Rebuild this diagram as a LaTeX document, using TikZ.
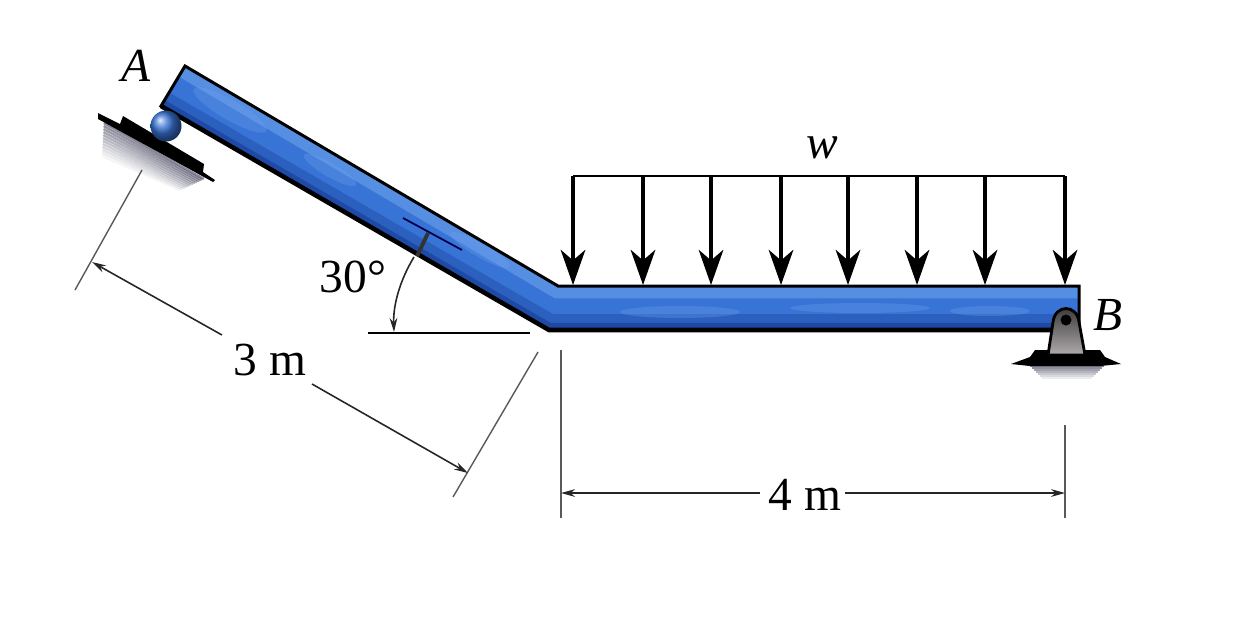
\documentclass[tikz,border=0pt]{standalone}
\usepackage{fontspec}
\setmainfont{Liberation Serif}
\usetikzlibrary{arrows.meta,positioning}
\definecolor{beamblue}{RGB}{56,116,214}
\definecolor{beamdark}{RGB}{18,52,140}
\definecolor{beamlite}{RGB}{112,164,236}
\definecolor{bracketgray}{RGB}{176,170,172}
\definecolor{shadowblue}{RGB}{40,40,70}
\tikzset{
  beamline/.style={line width=0.85pt, black, line join=miter},
  thinline/.style={line width=0.4pt, black!65},
  dimline/.style={line width=0.45pt, black!85, -{Stealth[length=4pt,width=2.2pt]}},
  loadarrow/.style={line width=1pt, black, -{Stealth[length=10pt,width=7pt,inset=3pt]}},
  blotch/.style={fill=beamlite, opacity=0.3},
  label/.style={font=\fontsize{13.5}{14}\selectfont, inner sep=0pt}
}
\begin{document}
\begin{tikzpicture}[x=0.1mm, y=-0.1mm]
  \useasboundingbox (0,0) rectangle (1250,634);
  % corners of the beam
  \coordinate (Atop) at (185,66);
  \coordinate (Alow) at (161,106);
  \coordinate (kneetop) at (558,286);
  \coordinate (kneelow) at (549,330);
  \coordinate (Btop) at (1079,286);
  \coordinate (Blow) at (1079,330);
  % shadows
  \foreach \k in {1,...,12} {
     \pgfmathsetmacro{\shadeop}{0.6*(1-\k/13)}
     \begin{scope}[shift={(-1.15*\k,2*\k)}]
        \draw [line width=0.66pt, shadowblue, opacity=\shadeop] (104+\k,120+\k) -- (206-\k,178-\k);
     \end{scope}
  }
  \foreach \k in {1,...,7} {
     \pgfmathsetmacro{\shadeop}{0.7*(1-\k/8)}
     \draw [line width=0.57pt, shadowblue, opacity=\shadeop] (1028+2*\k,364+2*\k) -- (1106-2*\k,364+2*\k);
  }
  % beam
  \fill [beamblue] (Atop) -- (kneetop) -- (Btop) -- (Blow) -- (kneelow) -- (Alow) -- cycle;
  \begin{scope}
     \clip (Atop) -- (kneetop) -- (Btop) -- (Blow) -- (kneelow) -- (Alow) -- cycle;
     \draw [line width=7pt, beamlite, opacity=0.55] (Atop) -- (kneetop) -- (Btop);
     \draw [line width=9pt, beamdark, opacity=0.3] (Alow) -- (kneelow) -- (Blow);
     \draw [line width=4pt, beamdark, opacity=0.5] (Alow) -- (kneelow) -- (Blow);
     \fill [blotch, rotate around={-30:(230,110)}] (230,110) ellipse (42 and 10);
     \fill [blotch, rotate around={-30:(330,170)}] (330,170) ellipse (30 and 7);
     \fill [blotch, rotate around={-30:(480,250)}] (480,250) ellipse (34 and 7);
     \fill [blotch] (680,312) ellipse (60 and 6);
     \fill [blotch] (860,308) ellipse (70 and 5);
     \fill [blotch] (990,311) ellipse (40 and 5);
  \end{scope}
  \draw [beamline] (Alow) -- (Atop) -- (kneetop) -- (Btop) -- (Blow) -- (kneelow) -- cycle;
  \draw [line width=1.3pt] (Alow) -- (kneelow) -- (Blow);
  % mark on the beam
  \coordinate (markL) at (403,218);
  \coordinate (markR) at (462,250);
  \coordinate (markM) at (428,233);
  \coordinate (markF) at (417,256);
  \draw [line width=0.5pt, black!70!blue] (markL) -- (markR);
  \draw [line width=1.1pt, black!80] (markM) -- (markF);
  % roller at A
  \fill [black] (98,113) -- (120,124) -- (123,116) -- (204,164) -- (203,172) -- (215,180) -- (213,182)
     -- (98,119) -- cycle;
  \shade [ball color=beamblue] (166,126) circle (15.5);
  % pin at B
  \fill [black] (1011,364) -- (1030,357) -- (1035,350) -- (1100,350) -- (1105,357) -- (1121,364) -- (1100,366) -- (1030,366) -- cycle;
  \draw [line width=0.8pt, top color=black!80, bottom color=bracketgray]
     (1048,355) -- (1053,322) .. controls (1055,304) and (1077,304) .. (1079,322) -- (1085,355) -- cycle;
  \fill [black] (1066,320) circle (5.5);
  % load
  \coordinate (loadL) at (573,176);
  \coordinate (loadR) at (1065,176);
  \draw [line width=0.55pt] (loadL) -- (loadR);
  \foreach \i/\x in {1/573,2/643,3/711,4/781,5/848,6/917,7/985,8/1065} {
     \coordinate (top\i) at (\x,176);
     \coordinate (tip\i) at (\x,285);
     \draw [loadarrow] (top\i) -- (tip\i);
  }
  % angle
  \coordinate (horL) at (368,333);
  \coordinate (horR) at (530,333);
  \coordinate (arcS) at (414,257);
  \coordinate (arcE) at (394,332);
  \draw [line width=0.55pt] (horL) -- (horR);
  \draw [dimline] (arcS) .. controls (400,280) and (393,305) .. (arcE);
  % 3 m
  \coordinate (extAa) at (142,170);
  \coordinate (extAb) at (75,290);
  \coordinate (extKa) at (538,352);
  \coordinate (extKb) at (453,497);
  \coordinate (dimAa) at (222,335);
  \coordinate (dimAb) at (92,262);
  \coordinate (dimKa) at (312,384);
  \coordinate (dimKb) at (468,473);
  \draw [thinline] (extAa) -- (extAb);
  \draw [thinline] (extKa) -- (extKb);
  \draw [dimline] (dimAa) -- (dimAb);
  \draw [dimline] (dimKa) -- (dimKb);
  % 4 m
  \coordinate (extLa) at (561,350);
  \coordinate (extLb) at (561,518);
  \coordinate (extRa) at (1065,425);
  \coordinate (extRb) at (1065,518);
  \coordinate (dimLa) at (760,493);
  \coordinate (dimLb) at (561,493);
  \coordinate (dimRa) at (845,493);
  \coordinate (dimRb) at (1065,493);
  \draw [thinline] (extLa) -- (extLb);
  \draw [thinline] (extRa) -- (extRb);
  \draw [dimline] (dimLa) -- (dimLb);
  \draw [dimline] (dimRa) -- (dimRb);
  % labels
  \node [label] (labA) at (136,66) {\textit{A}};
  \node [label] (labB) at (1108,315) {\textit{B}};
  \node [label] (labw) at (822,148) {\textit{w}};
  \node [label] (lab30) at (353,277) {30°};
  \node [label] (lab3m) at (270,360) {3 m};
  \node [label] (lab4m) at (805,495) {4 m};
\end{tikzpicture}
\end{document}
